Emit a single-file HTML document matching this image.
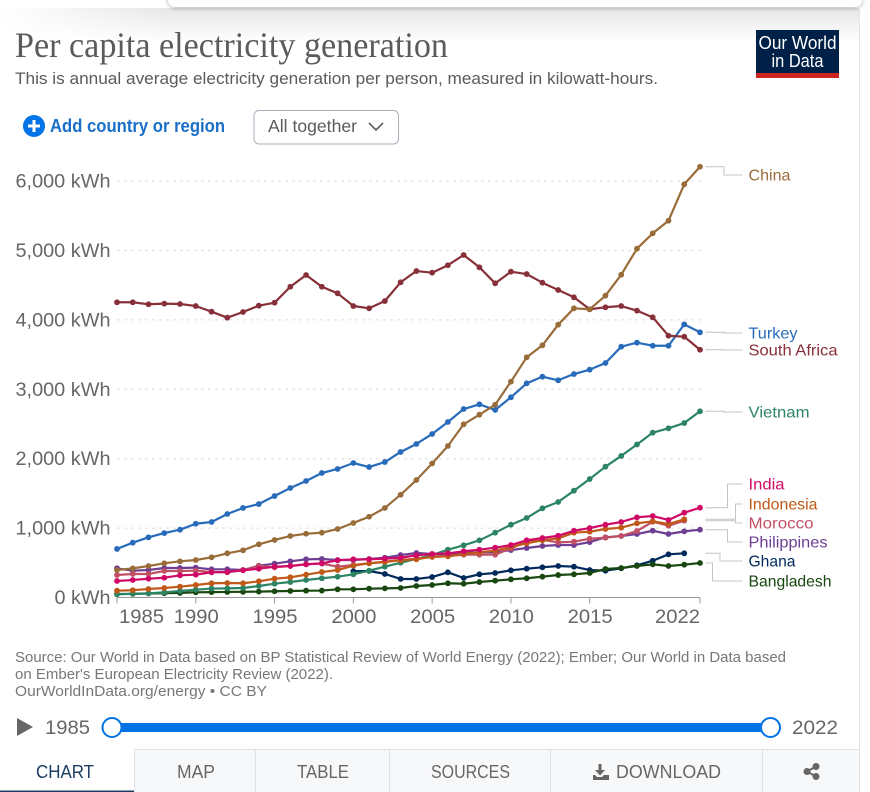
<!DOCTYPE html>
<html lang="en">
<head>
<meta charset="utf-8">
<title>Per capita electricity generation</title>
<style>
html,body{margin:0;padding:0;background:#fff;width:870px;height:792px;overflow:hidden}
svg{display:block;position:absolute;left:0;top:0}
text{font-family:"Liberation Sans",sans-serif}
.serif{font-family:"Liberation Serif",serif}
</style>
</head>
<body>
<svg id="root" width="870" height="792" viewBox="0 0 870 792" xmlns="http://www.w3.org/2000/svg">
<defs>
<linearGradient id="topShade" x1="0" y1="0" x2="0" y2="1"><stop offset="0" stop-color="#e6e6e6"/><stop offset="1" stop-color="#ffffff"/></linearGradient>
<linearGradient id="fadeLeft" x1="0" y1="0" x2="1" y2="0"><stop offset="0" stop-color="#fff"/><stop offset="1" stop-color="#fff" stop-opacity="0"/></linearGradient>
<filter id="cardShadow" x="-5%" y="-50%" width="110%" height="250%"><feDropShadow dx="0" dy="1" stdDeviation="2.5" flood-color="#000" flood-opacity="0.3"/></filter>
</defs>
<rect x="0" y="0" width="870" height="792" fill="#fff"/>
<rect x="0" y="8" width="859" height="34" fill="url(#topShade)"/>
<rect x="0" y="8" width="170" height="34" fill="url(#fadeLeft)"/>
<rect x="168" y="-30" width="694" height="37" rx="7" fill="#fff" filter="url(#cardShadow)"/>
<line x1="859.5" y1="10" x2="859.5" y2="792" stroke="#e4e4e4"/>

<text class="serif" x="15" y="57" font-size="36" fill="#5b5b5b" textLength="433" lengthAdjust="spacingAndGlyphs">Per capita electricity generation</text>
<text x="15" y="84" font-size="17" fill="#5b5b5b" textLength="643" lengthAdjust="spacingAndGlyphs">This is annual average electricity generation per person, measured in kilowatt-hours.</text>

<g>
<rect x="756" y="30" width="83" height="43" fill="#002147"/>
<rect x="756" y="73" width="83" height="5" fill="#ce261e"/>
<text x="797.5" y="49" font-size="18" fill="#fff" text-anchor="middle" textLength="78" lengthAdjust="spacingAndGlyphs">Our World</text>
<text x="797.5" y="67" font-size="18" fill="#fff" text-anchor="middle" textLength="52" lengthAdjust="spacingAndGlyphs">in Data</text>
</g>

<g>
<circle cx="34" cy="126" r="11" fill="#0073e6"/>
<rect x="28" y="124.5" width="12" height="3" fill="#fff"/>
<rect x="32.500" y="120" width="3" height="12" fill="#fff"/>
<text x="50" y="132" font-size="18.500" font-weight="700" fill="#1a6fc9" textLength="175" lengthAdjust="spacingAndGlyphs">Add country or region</text>
</g>
<g>
<rect x="254" y="110.500" width="144.500" height="33.500" rx="5" fill="#fff" stroke="#a9afbb"/>
<text x="268" y="132" font-size="17.500" fill="#5b5b5b" textLength="89" lengthAdjust="spacingAndGlyphs">All together</text>
<path d="M369 123 L376 130 L383 123" fill="none" stroke="#5b5b5b" stroke-width="1.6"/>
</g>

<g id="plot"></g>

<text x="15" y="662" font-size="14.500" fill="#777" textLength="771" lengthAdjust="spacingAndGlyphs">Source: Our World in Data based on BP Statistical Review of World Energy (2022); Ember; Our World in Data based</text>
<text x="15" y="679" font-size="14.500" fill="#777" textLength="318" lengthAdjust="spacingAndGlyphs">on Ember's European Electricity Review (2022).</text>
<text x="15" y="696" font-size="14.500" fill="#777" textLength="252" lengthAdjust="spacingAndGlyphs">OurWorldInData.org/energy • CC BY</text>

<g>
<path d="M17 718 L33 727 L17 736 Z" fill="#666"/>
<text x="45" y="734" font-size="19" fill="#666" textLength="45" lengthAdjust="spacingAndGlyphs">1985</text>
<rect x="112" y="723" width="659" height="9" fill="#0073e6"/>
<circle cx="112" cy="727.500" r="9.500" fill="#fff" stroke="#0073e6" stroke-width="2"/>
<circle cx="770.500" cy="727.500" r="9.500" fill="#fff" stroke="#0073e6" stroke-width="2"/>
<text x="792" y="734" font-size="19" fill="#666" textLength="46" lengthAdjust="spacingAndGlyphs">2022</text>
</g>

<g>
<rect x="134" y="749" width="725" height="43" fill="#f7f8fa"/>
<line x1="134" y1="749.500" x2="859" y2="749.500" stroke="#dfe1e5"/>
<line x1="134.500" y1="749" x2="134.500" y2="792" stroke="#dfe1e5"/>
<line x1="255.500" y1="749" x2="255.500" y2="792" stroke="#dfe1e5"/>
<line x1="389.500" y1="749" x2="389.500" y2="792" stroke="#dfe1e5"/>
<line x1="550.500" y1="749" x2="550.500" y2="792" stroke="#dfe1e5"/>
<line x1="762.500" y1="749" x2="762.500" y2="792" stroke="#dfe1e5"/>
<rect x="0" y="790.500" width="134" height="1.500" fill="#1d3d63"/>
<text x="36" y="778" font-size="18.500" fill="#1d3d63" textLength="58" lengthAdjust="spacingAndGlyphs">CHART</text>
<text x="177" y="778" font-size="18.500" fill="#666" textLength="38" lengthAdjust="spacingAndGlyphs">MAP</text>
<text x="297" y="778" font-size="18.500" fill="#666" textLength="52" lengthAdjust="spacingAndGlyphs">TABLE</text>
<text x="431" y="778" font-size="18.500" fill="#666" textLength="79" lengthAdjust="spacingAndGlyphs">SOURCES</text>
<path d="M598.500 764 h3 v6 h3.500 l-5 5.500 l-5 -5.500 h3.500 Z M593 775 h2 l2 2 h5 l2 -2 h5 v5 h-16 Z" fill="#666"/>
<text x="616" y="778" font-size="18.500" fill="#666" textLength="105" lengthAdjust="spacingAndGlyphs">DOWNLOAD</text>
<g fill="#666">
<line x1="807" y1="771.500" x2="816" y2="766.500" stroke="#666" stroke-width="2"/>
<line x1="807" y1="771.500" x2="816" y2="776.500" stroke="#666" stroke-width="2"/>
<circle cx="807" cy="771.500" r="3.500"/>
<circle cx="816" cy="766.500" r="3.500"/>
<circle cx="816" cy="776.500" r="3.500"/>
</g>
</g>
</svg>

<script>
const years = [1985,1986,1987,1988,1989,1990,1991,1992,1993,1994,1995,1996,1997,1998,1999,2000,2001,2002,2003,2004,2005,2006,2007,2008,2009,2010,2011,2012,2013,2014,2015,2016,2017,2018,2019,2020,2021,2022];
const yTicks = [0,1000,2000,3000,4000,5000,6000];
const yTickLabels = ["0 kWh","1,000 kWh","2,000 kWh","3,000 kWh","4,000 kWh","5,000 kWh","6,000 kWh"];
const xTicks = [1985,1990,1995,2000,2005,2010,2015,2022];
const xTickLabels = ["1985","1990","1995","2000","2005","2010","2015","2022"];

const ghana = [null,null,null,null,null,null,null,null,null,null,null,null,null,null,null,378,382,339,267,267,295,363,281,334,353,392,415,435,454,444,396,386,421,464,530,622,637,null];
const bangladesh = [50,52,58,62,66,75,78,80,82,85,90,94,98,100,118,118,127,132,137,166,180,205,198,223,242,262,277,300,324,334,353,411,425,454,478,454,473,497];
const vietnam = [46,54,60,75,94,112,129,132,137,166,199,223,252,277,300,334,386,444,501,555,612,689,752,824,934,1049,1146,1285,1376,1539,1707,1885,2040,2205,2375,2438,2514,2683];
const philippines = [421,386,396,425,425,430,406,406,396,458,487,521,550,555,540,540,555,573,612,641,627,620,646,651,651,684,713,742,756,756,799,867,886,915,962,915,953,977];
const morocco = [324,339,339,382,382,386,367,363,396,454,435,454,478,488,444,468,493,516,540,559,584,598,617,617,617,709,804,829,795,804,847,862,886,958,1092,1035,1107,null];
const indonesia = [98,105,122,137,156,180,205,209,205,233,271,291,329,367,396,458,493,512,536,550,588,593,627,651,675,728,781,824,853,934,948,987,1006,1069,1098,1059,1127,null];
const india = [238,252,271,285,320,329,363,367,392,415,444,454,478,493,536,550,550,559,573,608,627,637,666,689,718,756,824,857,890,962,1001,1049,1088,1155,1174,1117,1222,1294];
const turkey = [700,790,867,928,977,1063,1088,1203,1290,1347,1462,1578,1679,1794,1852,1938,1880,1952,2097,2212,2356,2529,2716,2784,2702,2885,3086,3182,3130,3220,3283,3379,3614,3672,3628,3628,3936,3821];
const southAfrica = [4254,4254,4225,4234,4229,4200,4118,4032,4114,4205,4248,4478,4647,4478,4383,4200,4167,4272,4542,4704,4680,4788,4935,4758,4527,4695,4661,4536,4431,4326,4153,4182,4200,4133,4037,3772,3758,3570];
const china = [396,420,454,493,521,540,579,637,680,767,829,886,919,934,987,1074,1164,1290,1481,1693,1931,2183,2496,2634,2778,3110,3461,3634,3931,4167,4153,4349,4651,5026,5248,5429,5954,6207];

const seriesList = [
  {name:"Ghana", slug:"ghana", color:"#00295b", values:ghana},
  {name:"Bangladesh", slug:"bangladesh", color:"#18470f", values:bangladesh},
  {name:"Vietnam", slug:"vietnam", color:"#2c8465", values:vietnam},
  {name:"Philippines", slug:"philippines", color:"#6d3e91", values:philippines},
  {name:"Morocco", slug:"morocco", color:"#c15065", values:morocco},
  {name:"Indonesia", slug:"indonesia", color:"#c05917", values:indonesia},
  {name:"India", slug:"india", color:"#cf0a66", values:india},
  {name:"Turkey", slug:"turkey", color:"#286bbb", values:turkey},
  {name:"South Africa", slug:"south-africa", color:"#883039", values:southAfrica},
  {name:"China", slug:"china", color:"#996d39", values:china}
];

/* legend label placement: label centre line, elbow of the connector, rendered label width */
const legendPlacement = {
  "China":{y:175,elbow:724,width:42},
  "Turkey":{y:333,elbow:724,width:49},
  "South Africa":{y:350,elbow:724,width:89},
  "Vietnam":{y:412,elbow:724,width:61},
  "India":{y:484,elbow:727.5,width:36},
  "Indonesia":{y:504,elbow:735.5,width:69},
  "Morocco":{y:523,elbow:735.5,width:65},
  "Philippines":{y:542,elbow:727.5,width:79},
  "Ghana":{y:561,elbow:720,width:47},
  "Bangladesh":{y:581,elbow:712.5,width:83}
};

const NS = "http://www.w3.org/2000/svg";
const plot = document.getElementById("plot");
const X0 = 117, X1 = 700, Y0 = 597.5, PX_PER_KWH = 0.0694;
function xScale(year){ return X0 + (year - years[0]) * (X1 - X0) / (years[years.length - 1] - years[0]); }
function yScale(v){ return Y0 - v * PX_PER_KWH; }
function make(tag, attrs, parent){
  const el = document.createElementNS(NS, tag);
  for (const k in attrs) el.setAttribute(k, attrs[k]);
  parent.appendChild(el);
  return el;
}

yTicks.forEach(function(t, i){
  if (t > 0) {
    const grid = make("line", {x1:X0, x2:703, y1:yScale(t), y2:yScale(t), stroke:"#dddddd", "stroke-width":1, "stroke-dasharray":"3,4"}, plot);
    
    
  }
  const label = make("text", {x:110.5, y:yScale(t) + 6.5, "text-anchor":"end", "font-size":19, fill:"#666"}, plot);
  
  
  label.setAttribute('textLength', t === 0 ? 56 : 95);
  label.setAttribute('lengthAdjust', 'spacingAndGlyphs');
  label.textContent = yTickLabels[i];
});

const axis = make("line", {x1:X0, x2:X1, y1:Y0, y2:Y0, stroke:"#999", "stroke-width":1}, plot);



xTicks.forEach(function(t, i){
  const tick = make("line", {x1:xScale(t), x2:xScale(t), y1:Y0, y2:Y0 + 6, stroke:"#999", "stroke-width":1}, plot);
  
  
  const first = i === 0, last = i === xTicks.length - 1;
  const label = make("text", {x:first ? xScale(t) + 2 : (last ? xScale(t) : xScale(t) + 0.5), y:623, "text-anchor":first ? "start" : (last ? "end" : "middle"), "font-size":19, fill:"#666"}, plot);
  
  
  label.setAttribute('textLength', 45);
  label.setAttribute('lengthAdjust', 'spacingAndGlyphs');
  label.textContent = xTickLabels[i];
});

seriesList.forEach(function(s){
  const g = make("g", {}, plot);
  
  
  let d = "";
  let lastVal = null;
  s.values.forEach(function(v, i){
    if (v === null) return;
    d += (d ? " L" : "M") + xScale(years[i]).toFixed(2) + " " + yScale(v).toFixed(2);
    lastVal = v;
  });
  const line = make("path", {d:d, fill:"none", stroke:s.color, "stroke-width":2.2, "stroke-linejoin":"round"}, g);
  
  
  s.values.forEach(function(v, i){
    if (v === null) return;
    const dot = make("circle", {cx:xScale(years[i]), cy:yScale(v), r:2.9, fill:s.color}, g);
    
    
  });
  s.endY = yScale(lastVal);
});

seriesList.forEach(function(s){
  const p = legendPlacement[s.name];
  const conn = make("path", {d:"M705.5 " + s.endY.toFixed(1) + " H" + p.elbow + " V" + p.y + " H742.5", fill:"none", stroke:"#c4c4c4", "stroke-width":1}, plot);
  
  
  const label = make("text", {x:748.5, y:p.y + 5.5, "font-size":16, fill:s.color}, plot);
  
  
  label.setAttribute('textLength', p.width);
  label.setAttribute('lengthAdjust', 'spacingAndGlyphs');
  label.textContent = s.name;
});
</script>
</body>
</html>
